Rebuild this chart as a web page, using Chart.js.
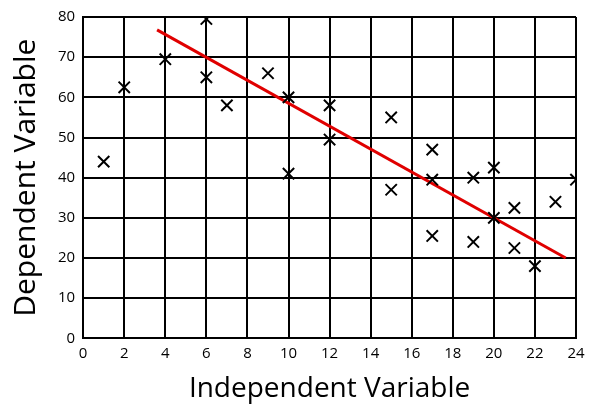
<!DOCTYPE html>
<html><head><meta charset="utf-8">
<script src="https://cdn.jsdelivr.net/npm/chart.js@4"></script>
<style>html,body{margin:0;padding:0;background:#fff}#w{width:600px;height:414px}</style>
</head><body><div id="w"><canvas id="c"></canvas></div>
<script>
const xValues=[1,2,4,6,6,7,9,10,10,12,12,15,15,17,17,17,19,19,20,20,21,21,22,23,24];
const yValues=[44,62.5,69.5,79.5,65,58,66,60,41,58,49.5,55,37,47,39.5,25.5,40,24,42.5,30,32.5,22.5,18,34,39.5];
const trendX=[3.6,23.5];
const trendY=[76.8,20];
const xTicks=[0,2,4,6,8,10,12,14,16,18,20,22,24];
const yTicks=[0,10,20,30,40,50,60,70,80];
Chart.defaults.font.family="'Open Sans', sans-serif";
Chart.defaults.color="#000";
new Chart(document.getElementById('c'),{
 type:'scatter',
 data:{datasets:[
  {data:xValues.map((x,i)=>({x,y:yValues[i]})),pointStyle:'crossRot',pointRadius:8,borderColor:'#000',borderWidth:2,backgroundColor:'#000'},
  {type:'line',data:trendX.map((x,i)=>({x,y:trendY[i]})),borderColor:'#e00000',borderWidth:3,pointRadius:0,fill:false}
 ]},
 options:{responsive:true,maintainAspectRatio:false,animation:false,
  layout:{padding:{left:4,right:24,top:14,bottom:4}},
  plugins:{legend:{display:false},tooltip:{enabled:false}},
  scales:{
   x:{type:'linear',min:0,max:24,afterBuildTicks:a=>{a.ticks=xTicks.map(v=>({value:v}));},
      grid:{color:'#000',lineWidth:2,drawTicks:false},border:{color:'#000',width:2},
      ticks:{font:{size:15},padding:6},
      title:{display:true,text:'Independent Variable',font:{size:28},padding:{top:4}}},
   y:{type:'linear',min:0,max:80,afterBuildTicks:a=>{a.ticks=yTicks.map(v=>({value:v}));},
      grid:{color:'#000',lineWidth:2,drawTicks:false},border:{color:'#000',width:2},
      ticks:{font:{size:15},padding:8},
      title:{display:true,text:'Dependent Variable',font:{size:30},padding:{bottom:6}}}
  }}
});
</script></body></html>
